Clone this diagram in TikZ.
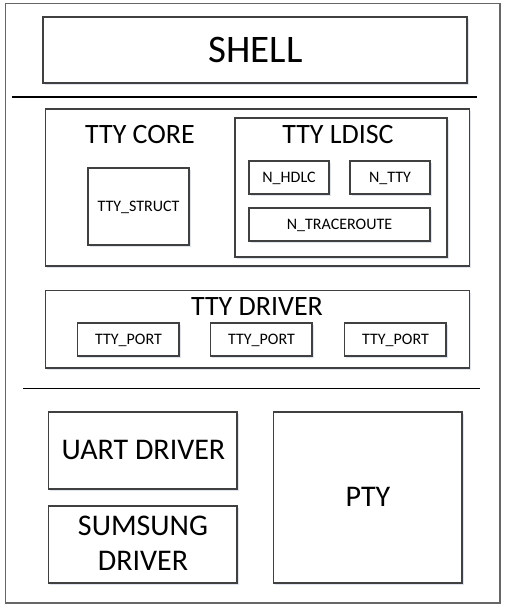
\documentclass[tikz,border=0pt]{standalone}
\usepackage{fontspec}
\setmainfont{Carlito}
\usetikzlibrary{shadows}
\definecolor{edge}{HTML}{404040}
\definecolor{shade}{HTML}{C8D4E6}
\tikzset{
  box/.style={draw=edge, line width=1.1pt, fill=white,
    drop shadow={shadow xshift=1.5pt, shadow yshift=-2pt, fill=shade, opacity=0.6}},
  lbl/.style={inner sep=0pt, text depth=0pt, align=center},
  big/.style={lbl, text height=25.1pt, font=\fontsize{39}{44}\selectfont},
  mid/.style={lbl, text height=18pt, font=\fontsize{28}{33}\selectfont},
  drv/.style={lbl, text height=19.3pt, font=\fontsize{30}{35.6}\selectfont},
  small/.style={lbl, text height=10.3pt, font=\fontsize{16}{19}\selectfont},
  sep/.style={line width=1.4pt, draw=black}
}
\begin{document}
\begin{tikzpicture}[x=1pt,y=-1pt]
\useasboundingbox (0,0) rectangle (507,613);
\fill[white] (0,0) rectangle (507,613);
% outer frame
\draw[draw=gray!80!black, line width=1.2pt] (5.5,3.5) rectangle (500,603);
% shell
\draw[box] (43,17) rectangle (467,83);
\node[big] (shell) at (255.5,49.5) {SHELL};
% separator 1
\coordinate (s1a) at (12,97);
\coordinate (s1b) at (477,97);
\draw[sep] (s1a) -- (s1b);
% tty core
\draw[box] (45.5,109) rectangle (469.5,266);
\node[mid] (core) at (140,134) {TTY CORE};
\draw[box] (88,168) rectangle (189,245);
\node[small] (struct) at (138.5,206) {TTY\_STRUCT};
% ldisc
\draw[box] (235,118) rectangle (447,257);
\node[mid] (ldisc) at (338,134) {TTY LDISC};
\draw[box] (249,161) rectangle (329,194);
\node[small] (hdlc) at (289,177.5) {N\_HDLC};
\draw[box] (350,161) rectangle (430,194);
\node[small] (ntty) at (390,177.5) {N\_TTY};
\draw[box] (249,208) rectangle (430,241);
\node[small] (trace) at (339.5,224.5) {N\_TRACEROUTE};
% tty driver
\draw[box] (45.5,290.5) rectangle (469.5,368);
\node[mid] (drv) at (257,306.5) {TTY DRIVER};
\draw[box] (77.5,323) rectangle (179,356);
\node[small] (p1) at (128.5,339.5) {TTY\_PORT};
\draw[box] (210.5,323) rectangle (312,356);
\node[small] (p2) at (261.5,339.5) {TTY\_PORT};
\draw[box] (344.5,323) rectangle (446,356);
\node[small] (p3) at (395.5,339.5) {TTY\_PORT};
% separator 2
\coordinate (s2a) at (23,388.5);
\coordinate (s2b) at (480,388.5);
\draw[sep] (s2a) -- (s2b);
% bottom drivers
\draw[box] (48.5,412) rectangle (237,489);
\node[drv] (uart) at (143.5,449.5) {UART DRIVER};
\draw[box] (48.5,506) rectangle (237,583);
\node[drv] (sums1) at (143,525.5) {SUMSUNG};
\node[drv] (sums2) at (143,561) {DRIVER};
\draw[box] (273.5,412) rectangle (462,583);
\node[drv] (pty) at (368,496.5) {PTY};
\end{tikzpicture}
\end{document}
